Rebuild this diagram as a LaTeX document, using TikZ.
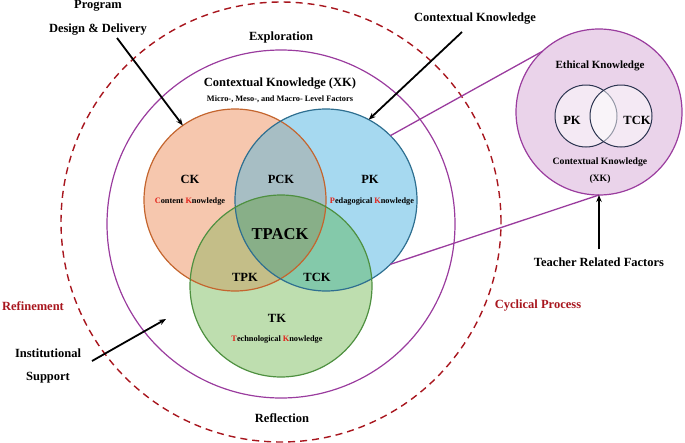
\documentclass[tikz,border=0pt]{standalone}
\usepackage{fontspec}
\setmainfont{Liberation Serif}
\usetikzlibrary{arrows.meta}
\definecolor{cycred}{HTML}{A8161E}
\definecolor{xkpurple}{HTML}{9A3C9E}
\definecolor{ckfill}{HTML}{F6C7AE}
\definecolor{ckline}{HTML}{C4652E}
\definecolor{pkfill}{HTML}{A6D9F0}
\definecolor{pkline}{HTML}{2E6F90}
\definecolor{tkfill}{HTML}{BEDEAF}
\definecolor{tkline}{HTML}{4E9040}
\definecolor{pckfill}{HTML}{A7BEC4}
\definecolor{tpkfill}{HTML}{C4BE88}
\definecolor{tckfill}{HTML}{84C9AA}
\definecolor{tpackfill}{HTML}{88AF88}
\definecolor{magfill}{HTML}{EAD3EA}
\definecolor{smallline}{HTML}{2B3450}
\definecolor{initred}{HTML}{E2231A}
\newcommand{\redini}[1]{\textcolor{initred}{#1}}
\tikzset{ringnode/.style={circle, draw, inner sep=0pt, outer sep=0pt,
           minimum size=2*#1},
         venn/.style={ringnode=91pt, line width=1.2pt},
         bigtext/.style={font=\fontsize{12.5}{14}\selectfont\bfseries, inner sep=1pt},
         smalltext/.style={font=\fontsize{8.3}{10}\selectfont\bfseries, inner sep=1pt},
         push/.style={line width=1.8pt, -{Stealth[length=7pt,width=5.5pt]}},
         zoomline/.style={xkpurple, line width=1.3pt}}

\begin{document}
\begin{tikzpicture}[x=1pt,y=-1pt]
  \useasboundingbox (0,0) rectangle (685,442);
  % cycle and context rings
  \node[ringnode=220pt, draw=cycred, dash pattern=on 7pt off 5pt, line width=1.4pt] (cycle) at (281,222) {};
  \node[ringnode=174pt, draw=xkpurple, line width=1.2pt] (xk) at (281,224) {};
  % venn regions
  \coordinate (ckc) at (235,200);
  \coordinate (pkc) at (326,200);
  \coordinate (tkc) at (281,286);
  \fill[ckfill] (ckc) circle[radius=91pt];
  \fill[pkfill] (pkc) circle[radius=91pt];
  \fill[tkfill] (tkc) circle[radius=91pt];
  \begin{scope}
    \clip (pkc) circle[radius=91pt];
    \fill[tckfill] (tkc) circle[radius=91pt];
  \end{scope}
  \begin{scope}
    \clip (ckc) circle[radius=91pt];
    \fill[pckfill] (pkc) circle[radius=91pt];
    \fill[tpkfill] (tkc) circle[radius=91pt];
    \clip (pkc) circle[radius=91pt];
    \fill[tpackfill] (tkc) circle[radius=91pt];
  \end{scope}
  \node[venn, draw=ckline] (ck) at (ckc) {};
  \node[venn, draw=pkline] (pk) at (pkc) {};
  \node[venn, draw=tkline] (tk) at (tkc) {};
  % venn labels
  \node[bigtext] (ckl) at (190,179) {CK};
  \node[smalltext] (ckt) at (190,202) {\redini{C}ontent \redini{K}nowledge};
  \node[bigtext] (pckl) at (281,179) {PCK};
  \node[bigtext] (pkl) at (370,179) {PK};
  \node[smalltext] (pkt) at (372,202) {\redini{P}edagogical \redini{K}nowledge};
  \node[font=\fontsize{16.6}{18}\selectfont\bfseries] (tpack) at (280,234) {TPACK};
  \node[bigtext] (tpkl) at (245,277) {TPK};
  \node[bigtext] (tckl) at (317,277) {TCK};
  \node[bigtext] (tkl) at (277,318) {TK};
  \node[smalltext] (tkt) at (277,340) {\redini{T}echnological \redini{K}nowledge};
  \node[bigtext] (xkt) at (280,84) {Contextual Knowledge (XK)};
  \node[smalltext] (lvl) at (280,99) {Micro-, Meso-, and Macro- Level Factors};
  % ring labels
  \node[bigtext] (expl) at (281,37) {Exploration};
  \node[bigtext] (refl) at (282,418) {Reflection};
  \node[bigtext, text=cycred] (refine) at (33,306) {Refinement};
  \node[bigtext, text=cycred] (cyc) at (538,306) {Cyclical Process};
  % magnified view
  \node[ringnode=83pt, draw=xkpurple, fill=magfill, line width=1.2pt] (mag) at (599,112) {};
  \node[ringnode=31pt, draw=smallline, fill=white, fill opacity=.5, line width=1pt] (spk) at (586,116) {};
  \node[ringnode=31pt, draw=smallline, fill=white, fill opacity=.5, line width=1pt] (stck) at (621,116) {};
  \node[font=\fontsize{11}{13}\selectfont\bfseries] (eth) at (600,66) {Ethical Knowledge};
  \node[bigtext] (spkl) at (572,120) {PK};
  \node[bigtext] (stckl) at (637,120) {TCK};
  \node[font=\fontsize{9.7}{11}\selectfont\bfseries] (mctx) at (600,162) {Contextual Knowledge};
  \node[font=\fontsize{9.7}{11}\selectfont\bfseries] (mxk) at (600,179) {(XK)};
  \draw[zoomline] (pk.45) -- (mag.133);
  \draw[zoomline] (pk.-45) -- (mag.south);
  % outside factors
  \node[bigtext] (prog) at (98,6) {Program};
  \node[bigtext] (dd) at (98,30) {Design \& Delivery};
  \node[bigtext] (ctx) at (475,19) {Contextual Knowledge};
  \node[bigtext] (inst) at (48,353) {Institutional};
  \node[bigtext] (supp) at (48,378) {Support};
  \node[bigtext] (trf) at (599,262) {Teacher Related Factors};
  \coordinate (ddstart) at (117,38);
  \coordinate (ctxstart) at (462,32);
  \coordinate (inststart) at (92,361);
  \coordinate (instend) at (166,319);
  \draw[push] (ddstart) -- (ck.125);
  \draw[push] (ctxstart) -- (pk.62);
  \draw[push] (inststart) -- (instend);
  \draw[push] ([yshift=7pt]trf.north) -- (mag.south);
\end{tikzpicture}
\end{document}
